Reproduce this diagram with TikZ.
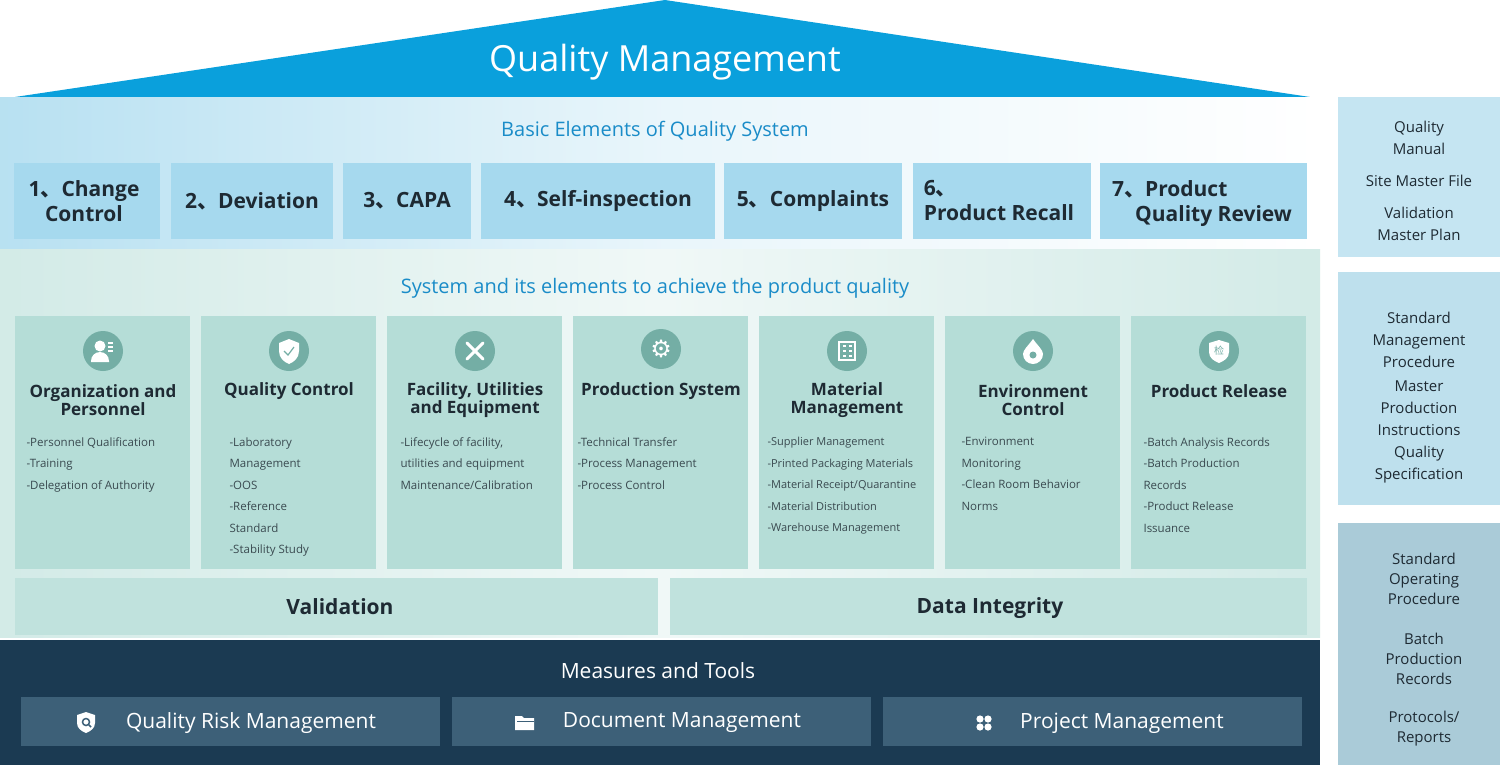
\documentclass[tikz,border=0pt]{standalone}
\usepackage{fontspec}
\setmainfont{Open Sans}
\newfontfamily\symf{DejaVu Sans}
\newfontfamily\cjk{Noto Sans CJK SC}
\newcommand{\dn}{{\cjk 、}}
\begin{document}
\begin{tikzpicture}[x=1pt,y=-1pt,
  etext/.style={font=\fontsize{21}{25}\selectfont\bfseries,text=darktxt,align=center},
  chead/.style={font=\fontsize{17}{18}\selectfont\bfseries,text=darktxt,align=center},
  citem/.style={font=\fontsize{11.5}{21.5}\selectfont,text=itemtxt,align=left,anchor=north west},
  icon/.style={circle,fill=iconc,minimum size=40pt,inner sep=0pt,text=white,font=\symf\fontsize{24}{24}\selectfont},
  btitle/.style={font=\fontsize{20}{24}\selectfont,text=titleblue},
  ttext/.style={font=\fontsize{21}{24}\selectfont,text=white},
  rtext/.style={font=\fontsize{15}{22}\selectfont,text=darktxt,align=center}]
\definecolor{roof}{HTML}{0AA0DC}
\definecolor{elemc}{HTML}{A6D9EE}
\definecolor{colc}{HTML}{B5DDD7}
\definecolor{iconc}{HTML}{74AEA5}
\definecolor{darktxt}{HTML}{1E2A33}
\definecolor{itemtxt}{HTML}{3A4A50}
\definecolor{titleblue}{HTML}{1A8CC8}
\definecolor{navy}{HTML}{1B3A52}
\definecolor{toolc}{HTML}{3D6078}
\definecolor{r1}{HTML}{C5E5F2}
\definecolor{r2}{HTML}{BEE0ED}
\definecolor{r3}{HTML}{AACBD8}
\useasboundingbox (0,0) rectangle (1501,766);
\fill[white] (0,0) rectangle (1501,766);
% roof
\fill[roof] (665,0) -- (1310,97) -- (15,97) -- cycle;
\node[font=\fontsize{36}{40}\selectfont,text=white] (title) at (665,62) {Quality Management};
% band 1
\shade[left color=elemc!80,right color=white,middle color=elemc!25] (0,97) rectangle (1320,249);
\node[btitle] (b1) at (655,131) {Basic Elements of Quality System};
\foreach \a/\b in {14/160,171/333,343/471,481/715,724/902,913/1091,1100/1307}{
  \fill[elemc] (\a,163) rectangle (\b,239);
}
\node[etext] (e1) at (84,201) {1\dn Change\\Control};
\node[etext] (e2) at (252,201) {2\dn Deviation};
\node[etext] (e3) at (407,201) {3\dn CAPA};
\node[etext] (e4) at (598,201) {4\dn Self-inspection};
\node[etext] (e5) at (813,201) {5\dn Complaints};
\node[etext,align=left] (e6) at (999,201) {6\dn\\Product Recall};
\node[etext,align=left] (e7) at (1202,204) {7\dn Product\\\hspace*{1.1em}Quality Review};
% band 2
\shade[left color=colc!60,right color=colc!60,middle color=colc!20] (0,249) rectangle (1320,637);
\node[btitle] (b2) at (655,288) {System and its elements to achieve the product quality};
\foreach \x in {15,201,387,573,759,945,1131}{
  \fill[colc] (\x,316) rectangle (\x+175,569);
}
\node[icon] (i1) at (103,351) {};
\fill[white] (100,346) circle (5.5);
\fill[white] (91,362) -- (91,361) arc[start angle=180,end angle=360,radius=9] -- (109,362) -- cycle;
\draw[white,line width=1.3] (108,343) -- (113,343) (108,347) -- (113,347) (108,351) -- (113,351);
\node[icon] (i2) at (289,351) {};
\fill[white] (289,339) -- (299,343) -- (299,351) .. controls (299,358) and (294,362) .. (289,364) .. controls (284,362) and (279,358) .. (279,351) -- (279,343) -- cycle;
\draw[iconc,line width=1.2] (284,351) -- (288,355) -- (294,347);
\node[icon] (i3) at (475,351) {};
\draw[white,line width=3,line cap=round] (467,343) -- (483,359) (483,343) -- (467,359);
\node[icon] (i4) at (661,349) {\symf ⚙};
\node[icon] (i5) at (847,351) {};
\draw[white,line width=1.3] (839,342) rectangle (855,360) (843,346) -- (846,346) (849,346) -- (852,346) (843,351) -- (846,351) (849,351) -- (852,351) (843,356) -- (846,356) (849,356) -- (852,356);
\node[icon] (i6) at (1033,351) {};
\fill[white] (1033,339) .. controls (1038,346) and (1043,350) .. (1043,354) arc[start angle=0,end angle=180,radius=10] .. controls (1023,350) and (1028,346) .. (1033,339);
\fill[iconc] (1033,355) circle (3.5);
\node[icon] (i7) at (1219,351) {};
\fill[white] (1219,340) -- (1229,343) -- (1229,352) .. controls (1229,358) and (1224,361) .. (1219,363) .. controls (1214,361) and (1209,358) .. (1209,352) -- (1209,343) -- cycle;
\node[text=iconc,font=\cjk\fontsize{10}{10}\selectfont] (i7t) at (1219,351) {检};
\node[chead] (h1) at (103,400) {Organization and\\Personnel};
\node[chead] (h2) at (289,391) {Quality Control};
\node[chead] (h3) at (475,400) {Facility, Utilities\\and Equipment};
\node[chead] (h4) at (661,391) {Production System};
\node[chead] (h5) at (847,400) {Material\\Management};
\node[chead] (h6) at (1033,400) {Environment\\Control};
\node[chead] (h7) at (1219,391) {Product Release};
\node[citem] (t1) at (23,434) {-Personnel Qualification\\-Training\\-Delegation of Authority};
\node[citem] (t2) at (226,434) {-Laboratory\\Management\\-OOS\\-Reference\\Standard\\-Stability Study};
\node[citem] (t3) at (397,434) {-Lifecycle of facility,\\utilities and equipment\\Maintenance/Calibration};
\node[citem] (t4) at (574,434) {-Technical Transfer\\-Process Management\\-Process Control};
\node[citem,font=\fontsize{11}{21.5}\selectfont] (t5) at (764,434) {-Supplier Management\\-Printed Packaging Materials\\-Material Receipt/Quarantine\\-Material Distribution\\-Warehouse Management};
\node[citem] (t6) at (958,434) {-Environment\\Monitoring\\-Clean Room Behavior\\Norms};
\node[citem] (t7) at (1140,434) {-Batch Analysis Records\\-Batch Production\\Records\\-Product Release\\Issuance};
\fill[colc!85] (15,578) rectangle (658,635);
\fill[colc!85] (670,578) rectangle (1307,635);
\node[etext] (v) at (340,607) {Validation};
\node[etext] (d) at (990,608) {Data Integrity};
% bottom
\fill[navy] (0,640) rectangle (1320,765);
\node[ttext] (mt) at (658,671) {Measures and Tools};
\fill[toolc] (21,697) rectangle (440,746);
\fill[toolc] (452,697) rectangle (871,746);
\fill[toolc] (883,697) rectangle (1302,746);
\node[ttext] (q) at (251,723) {Quality Risk Management};
\fill[white] (86,712) -- (95,715) -- (95,723) .. controls (95,728) and (91,731) .. (86,733) .. controls (81,731) and (77,728) .. (77,723) -- (77,715) -- cycle;
\draw[toolc,line width=1.5] (86,722) circle (3.5) (88,724) -- (91,727);
\node[ttext] (dm) at (682,723) {Document Management};
\fill[white] (515,716) -- (522,716) -- (524,718) -- (534,718) -- (534,730) -- (515,730) -- cycle;
\fill[toolc] (517,721) -- (534,721) -- (534,722) -- (517,722) -- cycle;
\node[ttext] (pm) at (1122,723) {Project Management};
\foreach \dx/\dy in {-4/-4,4/-4,-4/4,4/4}{\fill[white] (984+\dx,723+\dy) circle (3.6);}
% right
\fill[r1] (1338,97) rectangle (1500,257);
\fill[r2] (1338,272) rectangle (1500,505);
\fill[r3] (1338,523) rectangle (1500,765);
\node[rtext] (ra) at (1419,138) {Quality\\Manual};
\node[rtext] (rb) at (1419,181) {Site Master File};
\node[rtext] (rc) at (1419,224) {Validation\\Master Plan};
\node[rtext] (rd) at (1419,340) {Standard\\Management\\Procedure};
\node[rtext] (re) at (1419,408) {Master\\Production\\Instructions};
\node[rtext] (rf) at (1419,465) {Quality\\Specification};
\node[rtext,font=\fontsize{15}{20}\selectfont] (rg) at (1424,579) {Standard\\Operating\\Procedure};
\node[rtext,font=\fontsize{15}{20}\selectfont] (rh) at (1424,659) {Batch\\Production\\Records};
\node[rtext,font=\fontsize{15}{20}\selectfont] (ri) at (1424,729) {Protocols/\\Reports};
\end{tikzpicture}
\end{document}
